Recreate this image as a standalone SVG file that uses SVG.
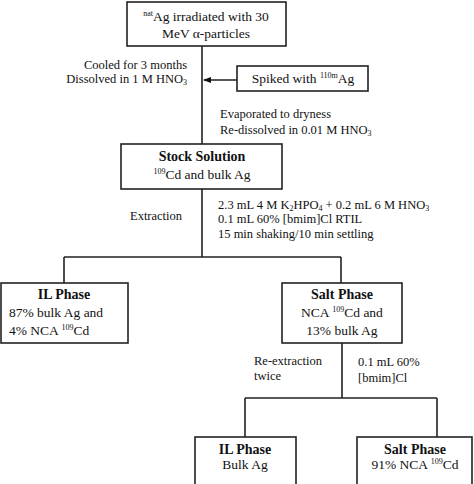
<svg xmlns="http://www.w3.org/2000/svg" width="474" height="484" viewBox="0 0 474 484">
<defs>
<style>
text{font-family:"Liberation Serif","Times New Roman",serif;font-size:13.5px;fill:#111}
.a{font-size:12.5px}
.b{font-weight:bold;font-size:14px}
.m{text-anchor:middle}
.e{text-anchor:end}
.s{font-size:8px}
rect{fill:#fff;stroke:#222;stroke-width:1.6}
.c{stroke:#222;stroke-width:1.6;fill:none}
</style>
<marker id="ah" markerWidth="8" markerHeight="8" refX="7" refY="4" orient="auto" markerUnits="userSpaceOnUse">
<path d="M0,1 L8,4 L0,7 Z" fill="#111"/>
</marker>
</defs>
<g id="connectors">
<path class="c" d="M202,46 V144"/>
<path class="c" d="M237,80 H204" marker-end="url(#ah)"/>
<path class="c" d="M202,189 V257 M64,257 H341 M64,257 V283 M341,257 V283"/>
<path class="c" d="M342,343 V398 M245,398 H437 M245,398 V437 M437,398 V437"/>
</g>
<g id="n-top">
<rect x="127" y="2" width="159" height="44"/>
<text x="206" y="21" class="m"><tspan class="s" dy="-5">nat</tspan><tspan dy="5">Ag irradiated with 30</tspan></text>
<text x="206" y="38" class="m">MeV α-particles</text>
</g>
<g id="l-cooled">
<text x="187" y="69" class="e a">Cooled for 3 months</text>
<text x="187" y="83" class="e a">Dissolved in 1 M HNO<tspan class="s" dy="2">3</tspan></text>
</g>
<g id="n-spiked">
<rect x="237" y="66" width="131" height="25"/>
<text x="303" y="83" class="m">Spiked with <tspan class="s" dy="-5">110m</tspan><tspan dy="5">Ag</tspan></text>
</g>
<g id="l-evap">
<text x="220" y="118" class="a">Evaporated to dryness</text>
<text x="220" y="134" class="a">Re-dissolved in 0.01 M HNO<tspan class="s" dy="2">3</tspan></text>
</g>
<g id="n-stock">
<rect x="121" y="144" width="161" height="45"/>
<text x="202" y="161" class="m b">Stock Solution</text>
<text x="202" y="179" class="m"><tspan class="s" dy="-5">109</tspan><tspan dy="5">Cd and bulk Ag</tspan></text>
</g>
<g id="l-extraction">
<text x="130" y="220" class="a">Extraction</text>
<text x="218" y="209" class="a">2.3 mL 4 M K<tspan class="s" dy="2">2</tspan><tspan dy="-2">HPO</tspan><tspan class="s" dy="2">4</tspan><tspan dy="-2"> + 0.2 mL 6 M HNO</tspan><tspan class="s" dy="2">3</tspan></text>
<text x="218" y="223" class="a">0.1 mL 60% [bmim]Cl RTIL</text>
<text x="218" y="238" class="a">15 min shaking/10 min settling</text>
</g>
<g id="n-il1">
<rect x="1" y="283" width="127" height="60"/>
<text x="64" y="299" class="m b">IL Phase</text>
<text x="9" y="317">87% bulk Ag and</text>
<text x="9" y="335">4% NCA <tspan class="s" dy="-5">109</tspan><tspan dy="5">Cd</tspan></text>
</g>
<g id="n-salt1">
<rect x="282" y="283" width="120" height="60"/>
<text x="342" y="299" class="m b">Salt Phase</text>
<text x="342" y="317" class="m">NCA <tspan class="s" dy="-5">109</tspan><tspan dy="5">Cd and</tspan></text>
<text x="342" y="335" class="m">13% bulk Ag</text>
</g>
<g id="l-reext">
<text x="254" y="365" class="a">Re-extraction</text>
<text x="254" y="380" class="a">twice</text>
<text x="358" y="366" class="a">0.1 mL 60%</text>
<text x="358" y="382" class="a">[bmim]Cl</text>
</g>
<g id="n-il2">
<rect x="195" y="437" width="101" height="50"/>
<text x="245" y="454" class="m b">IL Phase</text>
<text x="245" y="469" class="m">Bulk Ag</text>
</g>
<g id="n-salt2">
<rect x="357" y="437" width="115" height="50"/>
<text x="415" y="454" class="m b">Salt Phase</text>
<text x="415" y="469" class="m">91% NCA <tspan class="s" dy="-5">109</tspan><tspan dy="5">Cd</tspan></text>
</g>
</svg>
